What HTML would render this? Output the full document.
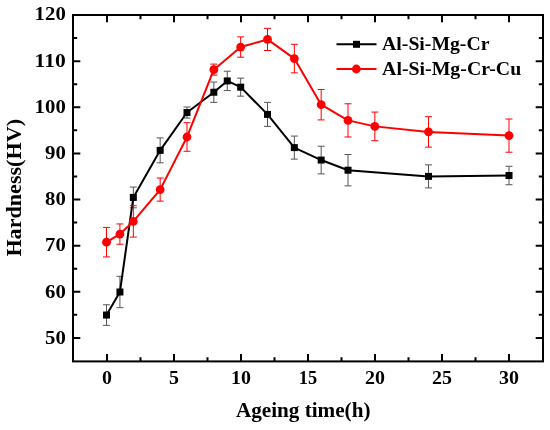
<!DOCTYPE html>
<html><head><meta charset="utf-8"><style>
html,body{margin:0;padding:0;background:#fff;}
body{width:550px;height:430px;overflow:hidden;}
svg{display:block;}
text{font-family:"Liberation Serif","Times New Roman",serif;font-weight:bold;fill:#000;}
.yl{font-size:19.5px;}
.xl{font-size:18.3px;}
.lg{font-size:19px;}
.tt{font-size:21px;}
.ty{font-size:21.5px;}
</style></head><body>
<svg width="550" height="430" viewBox="0 0 550 430">
<rect x="73" y="15" width="470" height="346.4" fill="none" stroke="#000" stroke-width="2"/>
<path d="M107 361.4v-7.3M107 15v7.3M140.5 361.4v-4.2M140.5 15v4.2M174 361.4v-7.3M174 15v7.3M207.5 361.4v-4.2M207.5 15v4.2M241 361.4v-7.3M241 15v7.3M274.5 361.4v-4.2M274.5 15v4.2M308 361.4v-7.3M308 15v7.3M341.5 361.4v-4.2M341.5 15v4.2M375 361.4v-7.3M375 15v7.3M408.5 361.4v-4.2M408.5 15v4.2M442 361.4v-7.3M442 15v7.3M475.5 361.4v-4.2M475.5 15v4.2M509 361.4v-7.3M509 15v7.3M73 337.93h7.3M543 337.93h-7.3M73 314.86h4.2M543 314.86h-4.2M73 291.8h7.3M543 291.8h-7.3M73 268.73h4.2M543 268.73h-4.2M73 245.66h7.3M543 245.66h-7.3M73 222.6h4.2M543 222.6h-4.2M73 199.53h7.3M543 199.53h-7.3M73 176.47h4.2M543 176.47h-4.2M73 153.4h7.3M543 153.4h-7.3M73 130.33h4.2M543 130.33h-4.2M73 107.27h7.3M543 107.27h-7.3M73 84.2h4.2M543 84.2h-4.2M73 61.13h7.3M543 61.13h-7.3M73 38.07h4.2M543 38.07h-4.2" stroke="#000" stroke-width="2" fill="none"/>
<path d="M106.5 304.78V325.35M103 304.78h7M103 325.35h7M119.92 276.31V307.68M116.42 276.31h7M116.42 307.68h7M133.33 187.05V207.81M129.83 187.05h7M129.83 207.81h7M160.17 137.91V162.83M156.67 137.91h7M156.67 162.83h7M187 107V118.08M183.5 107h7M183.5 118.08h7M213.84 82.09V102.39M210.34 82.09h7M210.34 102.39h7M227.25 71.21V90.58M223.75 71.21h7M223.75 90.58h7M240.67 78.17V96.16M237.17 78.17h7M237.17 96.16h7M267.5 102.39V126.38M264 102.39h7M264 126.38h7M294.34 136.07V159.13M290.84 136.07h7M290.84 159.13h7M321.17 146.22V173.9M317.67 146.22h7M317.67 173.9h7M348.01 154.52V185.89M344.51 154.52h7M344.51 185.89h7M428.51 164.86V187.92M425.01 164.86h7M425.01 187.92h7M509.01 166.29V184.74M505.51 166.29h7M505.51 184.74h7" stroke="#555" stroke-width="1" fill="none"/>
<polyline points="106.5,315.06 119.92,292 133.33,197.43 160.17,150.37 187,112.54 213.84,92.24 227.25,80.89 240.67,87.17 267.5,114.39 294.34,147.6 321.17,160.06 348.01,170.21 428.51,176.39 509.01,175.51" stroke="#000" stroke-width="2" fill="none" stroke-linejoin="round"/>
<rect x="103" y="311.56" width="7" height="7" fill="#000"/>
<rect x="116.42" y="288.5" width="7" height="7" fill="#000"/>
<rect x="129.83" y="193.93" width="7" height="7" fill="#000"/>
<rect x="156.67" y="146.87" width="7" height="7" fill="#000"/>
<rect x="183.5" y="109.04" width="7" height="7" fill="#000"/>
<rect x="210.34" y="88.74" width="7" height="7" fill="#000"/>
<rect x="223.75" y="77.39" width="7" height="7" fill="#000"/>
<rect x="237.17" y="83.67" width="7" height="7" fill="#000"/>
<rect x="264" y="110.89" width="7" height="7" fill="#000"/>
<rect x="290.84" y="144.1" width="7" height="7" fill="#000"/>
<rect x="317.67" y="156.56" width="7" height="7" fill="#000"/>
<rect x="344.51" y="166.71" width="7" height="7" fill="#000"/>
<rect x="425.01" y="172.89" width="7" height="7" fill="#000"/>
<rect x="505.51" y="172.01" width="7" height="7" fill="#000"/>
<path d="M106.5 227.41V256.94M103 227.41h7M103 256.94h7M119.92 223.95V244.25M116.42 223.95h7M116.42 244.25h7M133.33 205.73V237.1M129.83 205.73h7M129.83 237.1h7M160.17 178.05V201.12M156.67 178.05h7M156.67 201.12h7M187 122.69V151.29M183.5 122.69h7M183.5 151.29h7M213.84 64.1V75.17M210.34 64.1h7M210.34 75.17h7M240.67 36.88V57.18M237.17 36.88h7M237.17 57.18h7M267.5 28.35V50.49M264 28.35h7M264 50.49h7M294.34 44.26V72.87M290.84 44.26h7M290.84 72.87h7M321.17 89.47V119.92M317.67 89.47h7M317.67 119.92h7M348.01 103.78V136.99M344.51 103.78h7M344.51 136.99h7M374.84 112.08V140.68M371.34 112.08h7M371.34 140.68h7M428.51 116.69V147.14M425.01 116.69h7M425.01 147.14h7M509.01 119V152.22M505.51 119h7M505.51 152.22h7" stroke="#f00" stroke-width="1" fill="none"/>
<polyline points="106.5,242.17 119.92,234.1 133.33,221.41 160.17,189.58 187,136.99 213.84,69.64 240.67,47.03 267.5,39.42 294.34,58.57 321.17,104.7 348.01,120.38 374.84,126.38 428.51,131.92 509.01,135.61" stroke="#f00" stroke-width="2" fill="none" stroke-linejoin="round"/>
<circle cx="106.5" cy="242.17" r="4.4" fill="#f00"/>
<circle cx="119.92" cy="234.1" r="4.4" fill="#f00"/>
<circle cx="133.33" cy="221.41" r="4.4" fill="#f00"/>
<circle cx="160.17" cy="189.58" r="4.4" fill="#f00"/>
<circle cx="187" cy="136.99" r="4.4" fill="#f00"/>
<circle cx="213.84" cy="69.64" r="4.4" fill="#f00"/>
<circle cx="240.67" cy="47.03" r="4.4" fill="#f00"/>
<circle cx="267.5" cy="39.42" r="4.4" fill="#f00"/>
<circle cx="294.34" cy="58.57" r="4.4" fill="#f00"/>
<circle cx="321.17" cy="104.7" r="4.4" fill="#f00"/>
<circle cx="348.01" cy="120.38" r="4.4" fill="#f00"/>
<circle cx="374.84" cy="126.38" r="4.4" fill="#f00"/>
<circle cx="428.51" cy="131.92" r="4.4" fill="#f00"/>
<circle cx="509.01" cy="135.61" r="4.4" fill="#f00"/>
<text x="45.02" y="343.73" class="yl" textLength="20.77" lengthAdjust="spacingAndGlyphs">50</text>
<text x="45.02" y="297.6" class="yl" textLength="20.77" lengthAdjust="spacingAndGlyphs">60</text>
<text x="45.02" y="251.47" class="yl" textLength="20.77" lengthAdjust="spacingAndGlyphs">70</text>
<text x="45.02" y="205.33" class="yl" textLength="20.77" lengthAdjust="spacingAndGlyphs">80</text>
<text x="45.02" y="159.2" class="yl" textLength="20.77" lengthAdjust="spacingAndGlyphs">90</text>
<text x="34.64" y="113.07" class="yl" textLength="31.15" lengthAdjust="spacingAndGlyphs">100</text>
<text x="34.64" y="66.93" class="yl" textLength="31.15" lengthAdjust="spacingAndGlyphs">110</text>
<text x="34.64" y="19.8" class="yl" textLength="31.15" lengthAdjust="spacingAndGlyphs">120</text>
<text x="102.01" y="383.5" class="xl" textLength="9.97" lengthAdjust="spacingAndGlyphs">0</text>
<text x="169.01" y="383.5" class="xl" textLength="9.97" lengthAdjust="spacingAndGlyphs">5</text>
<text x="231.03" y="383.5" class="xl" textLength="19.95" lengthAdjust="spacingAndGlyphs">10</text>
<text x="298.83" y="383.5" class="xl" textLength="18.35" lengthAdjust="spacingAndGlyphs">15</text>
<text x="365.03" y="383.5" class="xl" textLength="19.95" lengthAdjust="spacingAndGlyphs">20</text>
<text x="432.03" y="383.5" class="xl" textLength="19.95" lengthAdjust="spacingAndGlyphs">25</text>
<text x="499.03" y="383.5" class="xl" textLength="19.95" lengthAdjust="spacingAndGlyphs">30</text>
<path d="M336.5 44.3h40" stroke="#000" stroke-width="2"/>
<rect x="353" y="40.8" width="7" height="7" fill="#000"/>
<path d="M336.5 69h40" stroke="#f00" stroke-width="2"/>
<circle cx="356.3" cy="69" r="4.4" fill="#f00"/>
<text x="382.1" y="49.5" class="lg" textLength="107.35" lengthAdjust="spacingAndGlyphs">Al-Si-Mg-Cr</text>
<text x="382.1" y="74.6" class="lg" textLength="139.12" lengthAdjust="spacingAndGlyphs">Al-Si-Mg-Cr-Cu</text>
<text x="235.9" y="417" class="tt" textLength="134.6" lengthAdjust="spacingAndGlyphs">Ageing time(h)</text>
<text transform="translate(20.6 256.6) rotate(-90)" class="ty" textLength="137.6" lengthAdjust="spacingAndGlyphs">Hardness(HV)</text>
</svg>
</body></html>
